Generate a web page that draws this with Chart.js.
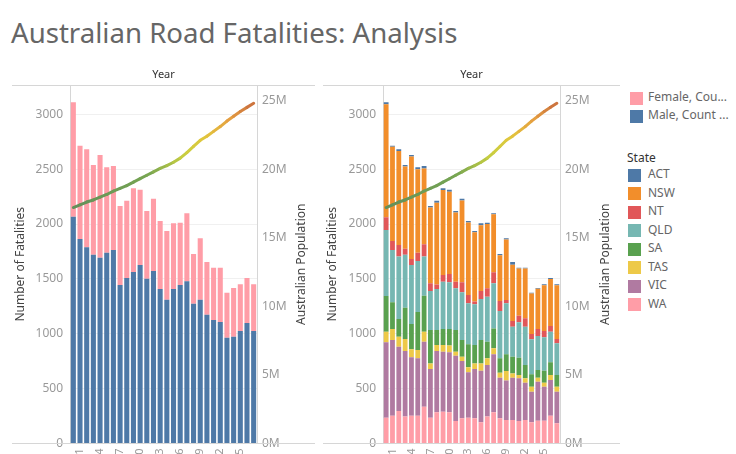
<!DOCTYPE html>
<html>
<head>
<meta charset="utf-8">
<script src="https://cdn.jsdelivr.net/npm/chart.js@4.4.0/dist/chart.umd.min.js"></script>
<style>
html, body { margin: 0; padding: 0; width: 736px; height: 454px; overflow: hidden; background: #fff; font-family: "Noto Sans", sans-serif; }
#title { position: absolute; left: 11px; top: 13px; font-size: 27.6px; color: #666; white-space: nowrap; }
canvas { position: absolute; top: 0; }
#c1 { left: 0; }
#c2 { left: 318px; }
.lg { position: absolute; font-size: 12px; color: #666; white-space: nowrap; line-height: 14px; }
.sw { position: absolute; width: 13px; height: 13px; }
#stateHead { position: absolute; left: 627px; top: 149px; font-size: 12px; color: #333; }
</style>
</head>
<body>
<div id="title">Australian Road Fatalities: Analysis</div>
<canvas id="c1" width="318" height="500"></canvas>
<canvas id="c2" width="304" height="500"></canvas>
<div id="legend"></div>
<div id="stateHead">State</div>
<script>
// ---- data ----
var years = [];
for (var y = 1990; y <= 2017; y++) years.push(String(y));
var tickYears = ['1991','1994','1997','2000','2003','2006','2009','2012','2015'];
var fatalTicks = [0, 500, 1000, 1500, 2000, 2500, 3000];
var popTicks = [0, 5, 10, 15, 20, 25];

var male   = [2067,1864,1788,1721,1693,1739,1763,1444,1508,1563,1627,1502,1572,1408,1311,1408,1444,1478,1274,1311,1174,1125,1107,964,973,1025,1098,1025];
var female = [1042,850,893,817,936,778,766,720,705,762,686,617,659,620,626,599,568,620,453,559,480,477,495,410,444,426,410,426];

// population in millions
var population = [17.2,17.4,17.6,17.75,17.95,18.15,18.4,18.6,18.8,19.05,19.3,19.55,19.8,20.05,20.25,20.5,20.8,21.2,21.65,22.1,22.4,22.75,23.1,23.5,23.85,24.2,24.5,24.8];

var WA  = [235,254,296,245,254,254,336,235,284,290,284,205,229,235,229,193,245,284,229,214,214,205,214,193,208,208,254,184];
var VIC = [687,689,586,598,531,522,592,444,559,547,547,595,523,414,450,471,470,529,371,359,386,389,340,279,355,310,325,288];
var TAS = [97,100,91,109,73,76,91,51,54,60,61,37,39,45,51,66,61,54,45,88,39,30,40,46,37,36,45,46];
var SA  = [325,244,162,286,231,346,328,304,137,146,151,197,152,210,167,213,152,182,131,152,152,158,121,112,70,110,116,106];
var QLD = [602,476,568,482,538,465,356,356,374,432,426,380,435,373,371,374,410,411,431,464,274,322,350,319,310,304,279,289];
var NT  = [115,82,106,55,54,76,112,70,42,61,76,61,91,76,25,73,76,100,92,31,51,61,76,49,64,57,52,39];
var NSW = [1030,860,857,750,934,761,690,690,745,774,750,630,746,662,632,600,586,530,416,552,514,430,454,370,366,418,429,489];
var ACT = [18,9,15,13,14,17,24,14,18,15,18,14,16,13,12,17,12,8,12,10,24,7,7,6,7,8,8,10];

var stateNames = ['ACT','NSW','NT','QLD','SA','TAS','VIC','WA'];
var stateColors = { ACT:'#4e79a7', NSW:'#f28e2b', NT:'#e15759', QLD:'#76b7b2', SA:'#59a14f', TAS:'#edc948', VIC:'#b07aa1', WA:'#ff9da7' };
var stateData = { ACT:ACT, NSW:NSW, NT:NT, QLD:QLD, SA:SA, TAS:TAS, VIC:VIC, WA:WA };

// ---- styling ----
var H = 500;
var plotTop = 85, plotBottom = 443.5;
var popStops = [[0,'#64905a'],[0.4,'#76a552'],[0.6,'#c9cf40'],[0.72,'#e3c63d'],[0.85,'#e5a041'],[1,'#c5673e']];

function hex(c){ return [parseInt(c.substr(1,2),16), parseInt(c.substr(3,2),16), parseInt(c.substr(5,2),16)]; }
function popColor(t){
    for (var i = 1; i < popStops.length; i++) {
        if (t <= popStops[i][0]) {
            var a = popStops[i-1], b = popStops[i];
            var f = (t - a[0]) / (b[0] - a[0]);
            var ca = hex(a[1]), cb = hex(b[1]);
            var r = ca.map(function(v, k){ return Math.round(v + (cb[k] - v) * f); });
            return 'rgb(' + r.join(',') + ')';
        }
    }
    return popStops[popStops.length-1][1];
}

function popDataset(){
    return {
        type: 'line', label: 'Australian Population', data: population, yAxisID: 'y2',
        borderWidth: 3, pointRadius: 0, tension: 0, order: 0, borderCapStyle: 'round',
        borderColor: popStops[0][1],
        segment: { borderColor: function(ctx){ return popColor(ctx.p0DataIndex / (population.length - 1)); } }
    };
}

var frame = {
    id: 'frame',
    beforeDatasetsDraw: function(chart, args, opts){
        var ctx = chart.ctx, a = chart.chartArea;
        ctx.save();
        ctx.strokeStyle = '#d6d6d6';
        ctx.lineWidth = 1;
        ctx.beginPath();
        ctx.moveTo(opts.from, plotTop + 0.5); ctx.lineTo(opts.to, plotTop + 0.5);
        ctx.moveTo(opts.from, plotBottom); ctx.lineTo(opts.to, plotBottom);
        ctx.moveTo(Math.round(a.left) + 0.5, plotTop); ctx.lineTo(Math.round(a.left) + 0.5, plotBottom);
        ctx.moveTo(Math.round(a.right) + 0.5, plotTop); ctx.lineTo(Math.round(a.right) + 0.5, plotBottom);
        ctx.stroke();
        ctx.restore();
    },
    afterDraw: function(chart, args, opts){
        var ctx = chart.ctx, a = chart.chartArea;
        var midY = (a.top + a.bottom) / 2;
        ctx.save();
        ctx.fillStyle = '#333';
        ctx.font = '11px "Noto Sans"';
        ctx.textAlign = 'center';
        ctx.textBaseline = 'middle';
        ctx.fillText('Year', (a.left + a.right) / 2, 75);
        ctx.fillStyle = '#444';
        ctx.font = '12px "Noto Sans"';
        ctx.translate(opts.leftTitleX, midY);
        ctx.rotate(-Math.PI / 2);
        ctx.fillText('Number of Fatalities', 0, 0);
        ctx.restore();
        ctx.save();
        ctx.fillStyle = '#444';
        ctx.font = '12px "Noto Sans"';
        ctx.textAlign = 'center';
        ctx.textBaseline = 'middle';
        ctx.translate(opts.rightTitleX, midY);
        ctx.rotate(-Math.PI / 2);
        ctx.fillText('Australian Population', 0, 0);
        ctx.restore();
    }
};

function buildChart(id, bars, box){
    var canvas = document.getElementById(id);
    var W = canvas.width;
    return new Chart(canvas, {
        type: 'bar',
        data: { labels: years, datasets: bars.concat([popDataset()]) },
        options: {
            responsive: false,
            animation: false,
            layout: { padding: { top: plotTop, left: 0, right: 0, bottom: 0 } },
            datasets: { bar: { categoryPercentage: 1, barPercentage: 0.76 } },
            plugins: {
                legend: { display: false },
                tooltip: { enabled: false },
                frame: box
            },
            scales: {
                x: {
                    stacked: true,
                    grid: { display: false, drawTicks: false, tickLength: 0 },
                    border: { display: false },
                    ticks: {
                        autoSkip: false, minRotation: 90, maxRotation: 90, padding: 5,
                        color: '#999', font: { size: 11, family: '"Noto Sans"' },
                        callback: function(v, i){ return tickYears.indexOf(years[i]) >= 0 ? years[i] : ''; }
                    },
                    afterFit: function(s){ s.height = H - plotBottom; }
                },
                y: {
                    stacked: true, position: 'left', min: 0, max: 3267,
                    afterBuildTicks: function(s){ s.ticks = fatalTicks.map(function(v){ return { value: v }; }); },
                    afterFit: function(s){ s.width = box.plotLeft; },
                    grid: { color: '#f0f0f0', drawTicks: false },
                    border: { display: false },
                    ticks: { padding: 7, color: '#999', font: { size: 12, family: '"Noto Sans"' },
                             callback: function(v){ return String(v); } }
                },
                y2: {
                    position: 'right', min: 0, max: 26.13,
                    afterBuildTicks: function(s){ s.ticks = popTicks.map(function(v){ return { value: v }; }); },
                    afterFit: function(s){ s.width = W - box.plotRight; },
                    grid: { display: false, drawTicks: false },
                    border: { display: false },
                    ticks: { padding: 5, color: '#999', font: { size: 12, family: '"Noto Sans"' },
                             callback: function(v){ return v + 'M'; } }
                }
            }
        },
        plugins: [frame]
    });
}

var genderBars = [
    { label: 'Male, Count', data: male, backgroundColor: '#4e79a7', order: 1 },
    { label: 'Female, Count', data: female, backgroundColor: '#ff9da7', order: 1 }
];
buildChart('c1', genderBars, { plotLeft: 70, plotRight: 257, from: 12, to: 315, leftTitleX: 21, rightTitleX: 302 });

// stack bottom to top: WA, VIC, TAS, SA, QLD, NT, NSW, ACT
var stateBars = stateNames.slice().reverse().map(function(s){
    return { label: s, data: stateData[s], backgroundColor: stateColors[s], order: 1 };
});
buildChart('c2', stateBars, { plotLeft: 65, plotRight: 242, from: 5, to: 302, leftTitleX: 15, rightTitleX: 288 });

// ---- legend ----
var legend = document.getElementById('legend');
function addItem(x, cy, color, text){
    var sw = document.createElement('div');
    sw.className = 'sw';
    sw.style.left = x + 'px';
    sw.style.top = (cy - 6.5) + 'px';
    sw.style.background = color;
    legend.appendChild(sw);
    var t = document.createElement('div');
    t.className = 'lg';
    t.style.left = '648px';
    t.style.top = (cy - 8) + 'px';
    t.textContent = text;
    legend.appendChild(t);
}
addItem(630, 98, '#ff9da7', 'Female, Cou...');
addItem(630, 116, '#4e79a7', 'Male, Count ...');
stateNames.forEach(function(s, i){
    addItem(628, 175 + i * 18.5, stateColors[s], s);
});
</script>
</body>
</html>
